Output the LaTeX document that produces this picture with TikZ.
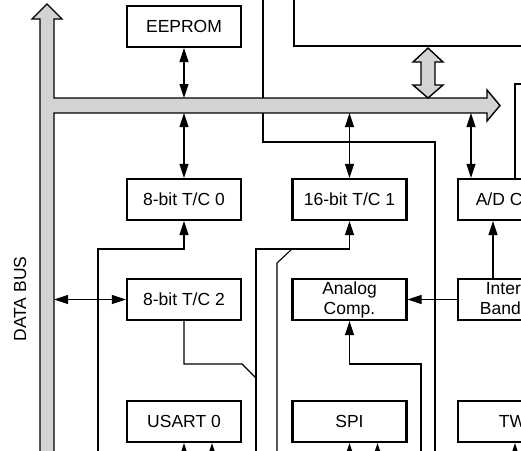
\documentclass[tikz,border=0pt]{standalone}
\usepackage{fontspec}
\setmainfont{Liberation Sans}
\usetikzlibrary{arrows.meta}
\definecolor{busgray}{RGB}{209,211,212}

\begin{document}
\begin{tikzpicture}[x=1pt,y=-1pt]
\tikzstyle{every node}=[font=\fontsize{17.5}{20}\selectfont, inner sep=0pt, align=center]
\tikzstyle{unit}=[draw, line width=2.2pt, minimum width=114pt, minimum height=41pt, fill=white]
\tikzstyle{line}=[line width=1.1pt]
\tikzstyle{wire}=[line width=1.1pt, -{Triangle[length=14pt,width=9pt]}]
\tikzstyle{dwire}=[line width=1.1pt, {Triangle[length=14pt,width=9pt]}-{Triangle[length=14pt,width=9pt]}]
\tikzstyle{bus}=[draw, fill=busgray, line width=1.4pt, line join=miter]
\useasboundingbox (0,0) rectangle (521,450);
\clip (0,0) rectangle (521,450);
\draw (184,26.5) node (eeprom) [unit] {EEPROM};
\draw (184,199.5) node (tc0) [unit] {8-bit T/C 0};
\draw (184,299.5) node (tc2) [unit] {8-bit T/C 2};
\draw (184,421.5) node (usart) [unit] {USART 0};
\draw (349.5,199.5) node (tc1) [unit] {16-bit T/C 1};
\draw (349.5,299.5) node (acomp) [unit] {Analog\\Comp.};
\draw (349.5,421.5) node (spi) [unit] {SPI};
\draw (515,199.5) node (adc) [unit] {A/D Conv.};
\draw (515,299.5) node (bandgap) [unit] {Internal\\Bandgap};
\draw (515,421.5) node (twi) [unit] {TWI};
\draw (293,47) node (mem) [unit, anchor=south west, minimum width=300pt, minimum height=80pt] {};
\draw (20,299) node (dbus) [rotate=90] {DATA BUS};
\coordinate (bt1) at (184,98);
\coordinate (bb1) at (184,113);
\coordinate (bb2) at (349.5,113);
\coordinate (bb3) at (471,113);
\coordinate (bl) at (54,299.5);
\coordinate (j1) at (98,249);
\coordinate (j2) at (256,249);
\coordinate (j3) at (292,249);
\coordinate (j4) at (277,263);
\coordinate (j6) at (242,364);
\coordinate (j7) at (256,378);
\coordinate (j8) at (263,142);
\coordinate (j9) at (435,142);
\coordinate (j10) at (421,364);
\coordinate (j11) at (515,84);
\coordinate (e1) at (98,460);
\coordinate (e2) at (256,460);
\coordinate (e3) at (277,460);
\coordinate (e4) at (263,-10);
\coordinate (e5) at (435,460);
\coordinate (e6) at (421,460);
\coordinate (e7) at (560,84);
\draw[line] (e4) -- (j8) -- (j9) -- (e5);
\draw[wire] (e1) -- (j1) -| (tc0);
\draw[wire] (e2) -- (j2) -| (tc1);
\draw[line] (e3) -- (j4) -- (j3);
\draw[line] (tc2) |- (j6) -- (j7);
\draw[wire] (e6) -- (j10) -| (acomp);
\draw[line] (e7) -- (j11) -- (adc);
\draw[wire] (bandgap) -- (acomp);
\draw[wire] ([xshift=-22pt]bandgap.north) -- ([xshift=-22pt]adc.south);
\draw[bus] (40,460) -- (40,19) -- (32,19) -- (47,4) -- (62,19) -- (54,19) -- (54,98) -- (487,98) -- (487,90) -- (500,105.5) -- (487,121) -- (487,113) -- (54,113) -- (54,460) -- cycle;
\draw[bus] (428,48) -- (443,62) -- (435,62) -- (435,85) -- (443,85) -- (428,98) -- (413,85) -- (421,85) -- (421,62) -- (413,62) -- cycle;
\draw[dwire] (eeprom) -- (bt1);
\draw[dwire] (bb1) -- (tc0);
\draw[dwire] (bb2) -- (tc1);
\draw[dwire] (bb3) -- ([xshift=-44pt]adc.north);
\draw[dwire] (bl) -- (tc2);
\draw[wire] ([yshift=-20pt]usart.south) -- (usart.south);
\draw[wire] ([xshift=28pt,yshift=-20pt]usart.south) -- ([xshift=28pt]usart.south);
\draw[wire] ([yshift=-20pt]spi.south) -- (spi.south);
\draw[wire] ([xshift=28pt,yshift=-20pt]spi.south) -- ([xshift=28pt]spi.south);
\draw[wire] ([yshift=-20pt]twi.south) -- (twi.south);
\end{tikzpicture}
\end{document}
